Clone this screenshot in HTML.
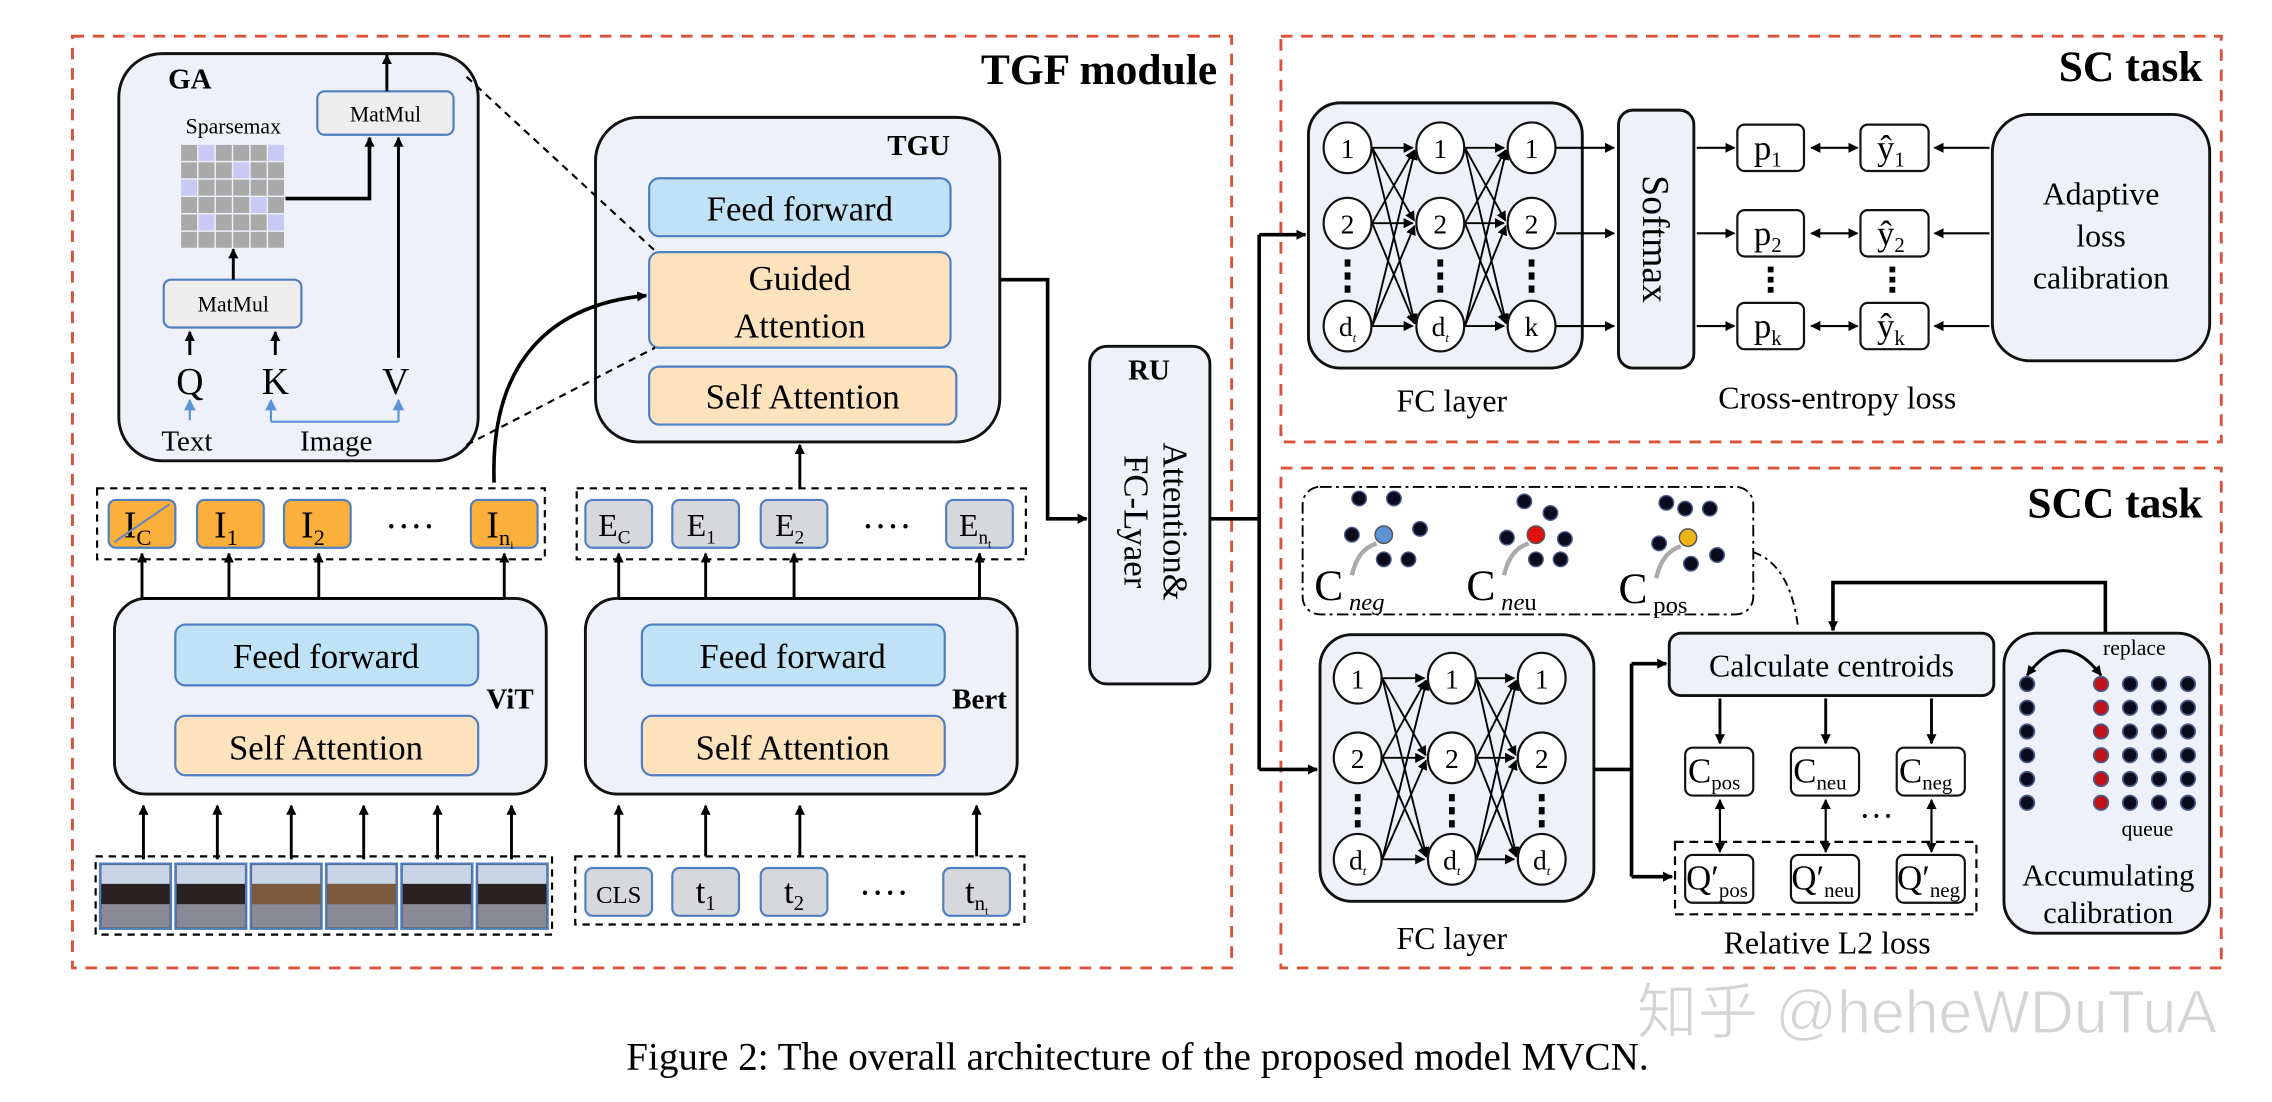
<!DOCTYPE html>
<html><head><meta charset="utf-8"><style>
html,body{margin:0;padding:0;background:#fff;}
svg{display:block;font-family:"Liberation Serif","Noto Serif CJK SC",serif;}
</style></head><body>
<svg id="s" width="2272" height="1102" viewBox="0 0 1568 760.5" preserveAspectRatio="none" xmlns="http://www.w3.org/2000/svg">
<defs>
<marker id="a" viewBox="0 0 10 10" refX="9" refY="5" markerWidth="7" markerHeight="7" orient="auto-start-reverse" markerUnits="userSpaceOnUse"><path d="M0,0 L10,5 L0,10 z" fill="#000"/></marker>
<marker id="b" viewBox="0 0 10 10" refX="9" refY="5" markerWidth="8" markerHeight="8" orient="auto-start-reverse" markerUnits="userSpaceOnUse"><path d="M0,0 L10,5 L0,10 z" fill="#5b93d6"/></marker>
</defs>
<g id="g"></g>
</svg>
<script>
var o='';
function R(x,y,w,h,rx,f,s,sw,d){o+='<rect x="'+x+'" y="'+y+'" width="'+w+'" height="'+h+'" rx="'+rx+'" fill="'+f+'" stroke="'+s+'" stroke-width="'+(sw||1.5)+'"'+(d?' stroke-dasharray="'+d+'"':'')+'/>';}
function T(x,y,s,fs,an,wt,col,extra){o+='<text x="'+x+'" y="'+y+'" font-size="'+fs+'" text-anchor="'+(an||'middle')+'" font-weight="'+(wt||'normal')+'" fill="'+(col||'#000')+'" '+(extra||'')+'>'+s+'</text>';}
function L(pts,arrow,sw,col,d,start){o+='<polyline points="'+pts+'" fill="none" stroke="'+(col||'#000')+'" stroke-width="'+(sw||2)+'"'+(arrow?' marker-end="url(#'+arrow+')"':'')+(start?' marker-start="url(#'+arrow+')"':'')+(d?' stroke-dasharray="'+d+'"':'')+'/>';}
function sub(b,s,x,y,fs){return '<tspan>'+b+'</tspan><tspan font-size="'+(fs*0.6)+'" dy="5">'+s+'</tspan>';}
var RED='#d9533a', BX='#eef1f9', BL='#bfe2f6', OR='#fde3bd', BS='#4f7fc0';
R(50,25,800,643,0,'none',RED,2,'8,6');
R(884,25,649,280,0,'none',RED,2,'8,6');
R(884,323,649,345,0,'none',RED,2,'8,6');
T(840,58,'TGF module',30,'end','bold');
T(1520,56,'SC task',30,'end','bold');
T(1520,357,'SCC task',30,'end','bold');
R(82,37,248,281,30,BX,'#111',2);
T(131,61,'GA',20,'middle','bold');
R(219,63,94,30,5,'#eeeeee',BS,1.5);T(266,84,'MatMul',15);
L('267,63 267,38','a');
T(161,92,'Sparsemax',15);
var gc=[[0,1,0,0,0,1],[0,0,0,1,0,0],[1,0,0,0,0,0],[0,0,0,0,1,0],[0,1,0,0,0,1],[0,0,0,0,0,0]];
for(var r=0;r<6;r++)for(var c=0;c<6;c++){o+='<rect x="'+(125+c*12)+'" y="'+(100+r*12)+'" width="11" height="11" fill="'+(gc[r][c]?'#c9c9f5':'#a9a9a9')+'"/>';}
L('197,137 255,137 255,95','a',2.5);
L('275,247 275,95','a');
R(113,193,95,33,5,'#eeeeee',BS,1.5);T(161,215,'MatMul',15);
L('161,193 161,172','a');
L('131,245 131,229','a');L('190,245 190,229','a');
T(131,272,'Q',26);T(190,272,'K',26);T(273,272,'V',26);
L('131,290 131,276','b',1.5,'#5b93d6');
L('187,291 275,291','',1.5,'#5b93d6');L('187,291 187,276','b',1.5,'#5b93d6');L('275,291 275,276','b',1.5,'#5b93d6');
T(129,311,'Text',20);T(232,311,'Image',20);
R(411,81,279,224,30,BX,'#111',2);
T(634,107,'TGU',20,'middle','bold');
R(448,123,208,40,7,BL,BS,1.5);T(552,152,'Feed forward',24);
R(448,174,208,66,7,OR,BS,1.5);T(552,200,'Guided',24);T(552,233,'Attention',24);
R(448,253,212,40,7,OR,BS,1.5);T(554,282,'Self Attention',24);
L('322,53 452,173','',1.5,'#000','5,4');L('322,307 452,240','',1.5,'#000','5,4');
o+='<path d="M341,333 C338,250 380,210 446,204" fill="none" stroke="#000" stroke-width="2.5" marker-end="url(#a)"/>';
L('690,193 723,193 723,358 750,358','a',2.5);
L('552,337 552,307','a');
R(752,239,83,233,12,BX,'#111',2);
T(793,262,'RU',20,'middle','bold');
T(0,0,'Attention&amp;',24,'middle','normal','#000','transform="translate(803,360) rotate(90)"');
T(0,0,'FC-Lyaer',24,'middle','normal','#000','transform="translate(776,360) rotate(90)"');
R(67,337,309,49,0,'none','#000',1.5,'5,4');
var I=[[75,'I','C'],[136,'I','1'],[196,'I','2'],[325,'I','n<tspan font-size="8" dy="3">i</tspan>']];
I.forEach(function(b){R(b[0],345,46,33,5,'#fbb03b',BS,1.5);T(b[0]+20,371,sub(b[1],b[2],0,0,26),26);});
L('79,374 117,348','',1.5,'#6a87b5');
T(283,372,'····',26);
R(398,337,310,49,0,'none','#000',1.5,'5,4');
var E=[[404,'C'],[464,'1'],[525,'2'],[653,'n<tspan font-size="8" dy="3">t</tspan>']];
E.forEach(function(b){R(b[0],345,46,33,5,'#d6d8dc',BS,1.5);T(b[0]+20,370,sub('E',b[1],0,0,22),22);});
T(612,372,'····',26);
R(79,413,298,135,22,BX,'#111',2);
R(121,431,209,42,7,BL,BS,1.5);T(225,461,'Feed forward',24);
R(121,494,209,41,7,OR,BS,1.5);T(225,524,'Self Attention',24);
T(352,489,'ViT',20,'middle','bold');
R(404,413,298,135,22,BX,'#111',2);
R(443,431,209,42,7,BL,BS,1.5);T(547,461,'Feed forward',24);
R(443,494,209,41,7,OR,BS,1.5);T(547,524,'Self Attention',24);
T(676,489,'Bert',20,'middle','bold');
[98,158,220,348].forEach(function(x){L(x+',413 '+x+',382','a');});
L('98,413 348,413','',2);
[427,487,548,676].forEach(function(x){L(x+',413 '+x+',382','a');});
L('427,413 676,413','',2);
R(66,591,315,54,0,'none','#000',1.5,'5,4');
for(var i=0;i<6;i++){var x=69+i*52;R(x,596,49,45,0,'#5a4a44',BS,1.5);o+='<rect x="'+(x+1)+'" y="597" width="47" height="13" fill="#c9d4e6"/><rect x="'+(x+1)+'" y="610" width="47" height="14" fill="'+(i==2||i==3?'#7a5a3a':'#2a2222')+'"/><rect x="'+(x+1)+'" y="624" width="47" height="16" fill="#8a8a96"/>';}
[99,150,201,251,302,353].forEach(function(x){L(x+',593 '+x+',556','a');});
R(397,591,310,47,0,'none','#000',1.5,'5,4');
var tk=[[404,'CLS',''],[464,'t','1'],[525,'t','2'],[651,'t','n<tspan font-size="8" dy="3">t</tspan>']];
tk.forEach(function(b){R(b[0],599,46,33,5,'#d6d8dc',BS,1.5);T(b[0]+23,623,b[2]?sub(b[1],b[2],0,0,24):b[1],b[2]?24:17);});
T(610,625,'····',26);
[427,487,552,674].forEach(function(x){L(x+',591 '+x+',556','a');});
L('835,358 869,358','',2.5);
L('869,162 869,531','',2.5);
L('869,162 901,162','a',2.5);L('869,531 909,531','a',2.5);
function FC(bx,by,bw,bh,cx,cy,labels){
 R(bx,by,bw,bh,22,BX,'#111',2);
 for(var c=0;c<2;c++)for(var i=0;i<3;i++)for(var j=0;j<3;j++){
   var x1=cx[c]+17,y1=cy[i],x2=cx[c+1]-17,y2=cy[j];
   var dx=x2-x1,dy=y2-y1,len=Math.sqrt(dx*dx+dy*dy);
   x2=x2-dx/len*2;y2=y2-dy/len*2;
   L(x1+','+y1+' '+x2.toFixed(1)+','+y2.toFixed(1),'a',1.3);}
 for(var c=0;c<3;c++){for(var i=0;i<3;i++){o+='<ellipse cx="'+cx[c]+'" cy="'+cy[i]+'" rx="16.5" ry="17.5" fill="#fff" stroke="#111" stroke-width="1.5"/>';
   var lb=labels[c][i];T(cx[c],cy[i]+7,lb=='d'?'d<tspan font-size="9" dy="4" font-style="italic">t</tspan>':lb,19);}
  for(var k=0;k<3;k++)o+='<rect x="'+(cx[c]-2)+'" y="'+(cy[1]+25+k*9)+'" width="4" height="5" fill="#000"/>';}
}
FC(903,71,189,183,[930,994,1057],[102,154,225],[['1','2','d'],['1','2','d'],['1','2','k']]);
T(1002,284,'FC layer',22);
R(1117,76,52,178,10,BX,'#111',2);
T(0,0,'Softmax',26,'middle','normal','#000','transform="translate(1134,165) rotate(90)"');
[102,161,225].forEach(function(y,i){
 L('1074,'+y+' 1114,'+y,'a',1.5);
 L('1171,'+y+' 1197,'+y,'a',1.5);
 L('1250,'+y+' 1282,'+y,'a',1.5,'#000','',true);
 L('1373,'+y+' 1335,'+y,'a',1.5);
 var n=['1','2','k'][i];
 R(1199,y-16,46,32,5,'#fff','#111',1.5);T(1220,y+8,sub('p',n,0,0,24),24);
 R(1284,y-16,47,32,5,'#fff','#111',1.5);T(1305,y+8,sub('ŷ',n,0,0,24),24);
});
[1222,1306].forEach(function(x){for(var k=0;k<3;k++)o+='<rect x="'+(x-2)+'" y="'+(184+k*7)+'" width="4" height="4" fill="#000"/>';});
R(1375,79,150,170,26,BX,'#111',2);
T(1450,141,'Adaptive',22);T(1450,170,'loss',22);T(1450,199,'calibration',22);
T(1268,282,'Cross-entropy loss',22);
FC(911,438,189,184,[937,1002,1064],[468,523,593],[['1','2','d'],['1','2','d'],['1','2','d']]);
T(1002,655,'FC layer',22);
R(899,336,311,88,12,'none','#000',1.3,'8,3,2,3');
function cl(cx,cy,col,pts,lab,subl,it){
 pts.forEach(function(p){o+='<circle cx="'+(cx+p[0])+'" cy="'+(cy+p[1])+'" r="5" fill="#0b0b1e" stroke="#4a5a8a" stroke-width="1"/>';});
 o+='<circle cx="'+cx+'" cy="'+cy+'" r="6" fill="'+col+'" stroke="#555" stroke-width="1"/>';
 o+='<path d="M'+(cx-22)+','+(cy+28)+' Q'+(cx-18)+','+(cy+10)+' '+(cx-5)+','+(cy+6)+'" fill="none" stroke="#aaa" stroke-width="3"/>';
 T(cx-38,cy+45,'C',30,'middle');
 T(cx-24,cy+52,subl,17,'start','normal','#000',it?'font-style="italic"':'');
}
cl(955,369,'#5b93d6',[[-17,-25,0],[7,-25],[-22,0],[25,-4],[0,17],[17,17]],'C','neg',true);
cl(1060,369,'#e01010',[[-8,-23],[10,-15],[-20,2],[20,3],[0,17],[17,17]],'C','<tspan font-style="italic">ne</tspan>u',false);
cl(1165,371,'#f0b419',[[-15,-24],[-2,-20],[15,-20],[-20,4],[20,12],[2,18]],'C','pos',false);
o+='<path d="M1210,381 Q1236,390 1241,434" fill="none" stroke="#000" stroke-width="1.3" stroke-dasharray="6,3,2,3"/>';
L('1100,531 1126,531','',2.5);L('1126,458 1126,605','',2.5);
L('1126,458 1150,458','a',2.5);L('1126,605 1154,605','a',2.5);
R(1152,437,224,43,8,BX,'#111',2);T(1264,467,'Calculate centroids',22);
L('1453,437 1453,402 1265,402 1265,435','a',2.5);
var Cs=[[1163,'pos'],[1236,'neu'],[1309,'neg']];
Cs.forEach(function(c){var mx=c[0]+24;
 L(mx+',482 '+mx+',513','a',2);
 R(c[0],516,47,33,5,'#fff','#111',1.5);T(c[0]+20,540,sub('C',c[1],0,0,24),24);
 L(mx+',552 '+mx+',588','a',1.5,'#000','',true);
 R(c[0],590,47,33,5,'#fff','#111',1.5);T(c[0]+22,614,sub('Q′',c[1],0,0,24),24);
});
R(1156,581,208,50,0,'none','#000',1.5,'6,4');
T(1295,571,'···',24);
T(1261,658,'Relative L2 loss',22);
R(1383,437,142,207,22,BX,'#111',2);
T(1473,452,'replace',15);
o+='<path d="M1399,466 Q1424,432 1450,466" fill="none" stroke="#000" stroke-width="2" marker-start="url(#a)" marker-end="url(#a)"/>';
[1399,1450,1470,1490,1510].forEach(function(x,ci){for(var r=0;r<6;r++){o+='<circle cx="'+x+'" cy="'+(472+r*16.4)+'" r="5" fill="'+(ci==1?'#c0101a':'#0b0b1e')+'" stroke="#4a5a8a" stroke-width="1.2"/>';}});
T(1482,577,'queue',15);
T(1455,611,'Accumulating',21);T(1455,637,'calibration',21);
T(785,738,'Figure 2: The overall architecture of the proposed model MVCN.',27);
T(1530,713,'知乎 @heheWDuTuA',42,'end','normal','#d0d0d0','font-family="Liberation Sans, Noto Sans CJK SC, sans-serif" stroke="#fff" stroke-width="0.8" opacity="0.9"');
document.getElementById('g').innerHTML=o;
</script>
</body></html>
